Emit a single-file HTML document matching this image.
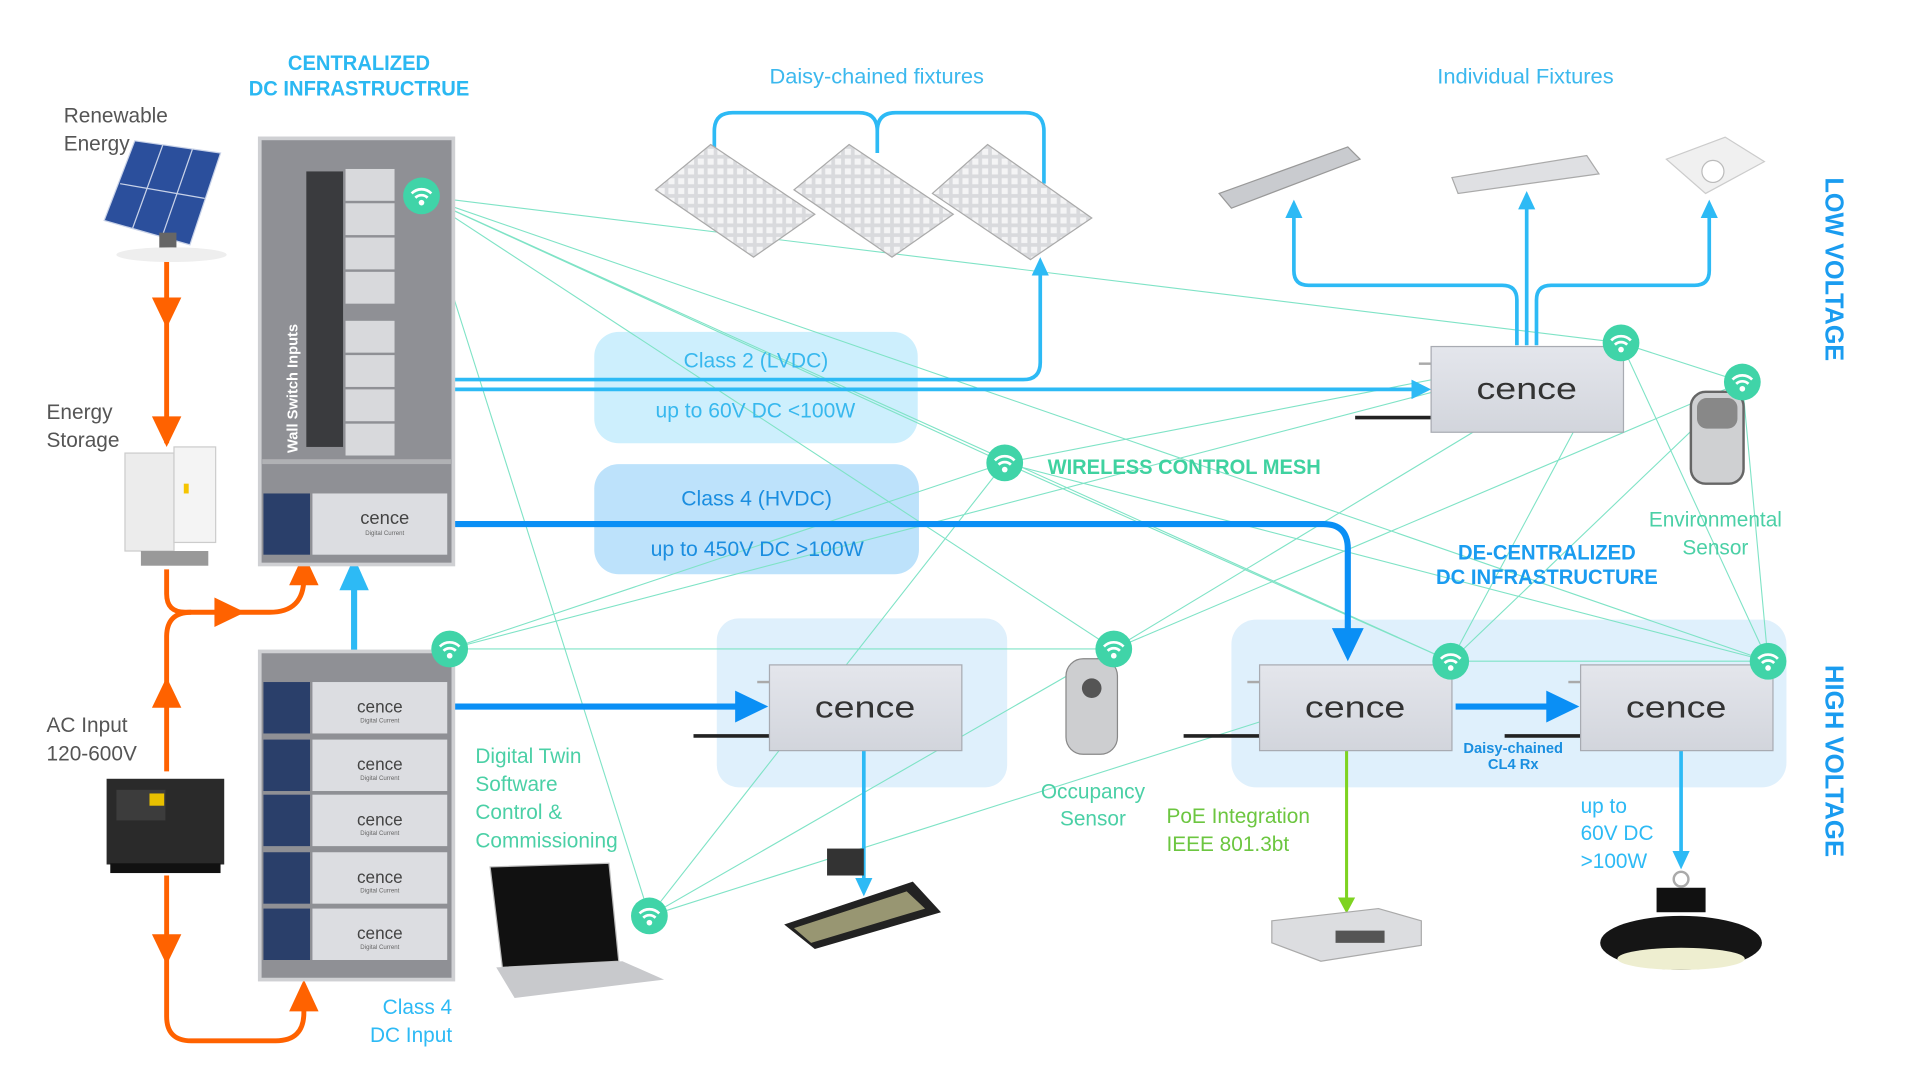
<!DOCTYPE html>
<html><head><meta charset="utf-8"><style>
html,body{margin:0;padding:0;background:#fff;}
svg{display:block;}
text{font-family:"Liberation Sans Narrow","Liberation Sans",sans-serif;}
</style></head><body>
<svg width="1920" height="1080" viewBox="0 0 1567 882" preserveAspectRatio="none" xmlns="http://www.w3.org/2000/svg">
<defs>
<g id="wifi"><circle r="15" fill="#40d4a8"/><path d="M-8,-2 A11,11 0 0 1 8,-2" stroke="#fff" stroke-width="2.2" fill="none"/><path d="M-5,1.5 A7,7 0 0 1 5,1.5" stroke="#fff" stroke-width="2.2" fill="none"/><circle cy="5.5" r="2.3" fill="#fff"/></g>
<linearGradient id="box" x1="0" y1="0" x2="0" y2="1"><stop offset="0" stop-color="#e4e6ec"/><stop offset="1" stop-color="#d2d5dc"/></linearGradient>
<pattern id="grid" width="8" height="8" patternUnits="userSpaceOnUse"><rect width="8" height="8" fill="#d9dadd"/><rect x="1.5" y="1.5" width="5" height="5" fill="#f4f4f5"/></pattern>
<g id="ctrl"><line x1="-62" y1="58" x2="0" y2="58" stroke="#222" stroke-width="3"/><line x1="-10" y1="14" x2="0" y2="14" stroke="#aaa" stroke-width="2"/><rect x="0" y="0" width="157" height="70" fill="url(#box)" stroke="#a8abb2"/><text x="78" y="43" text-anchor="middle" font-size="25" fill="#333" textLength="82" lengthAdjust="spacingAndGlyphs" style="font-family:'Liberation Sans',sans-serif">cence</text></g>
</defs>

<rect x="485" y="271" width="264" height="91" rx="20" fill="#cdeffd"/>
<rect x="485" y="379" width="265" height="90" rx="20" fill="#bde2fb"/>
<rect x="585" y="505" width="237" height="138" rx="18" fill="#dff0fc"/>
<rect x="1005" y="506" width="453" height="137" rx="20" fill="#dff0fc"/>

<g stroke="#7fe3c6" stroke-width="0.9" fill="none">
<path d="M344,160L820,378M344,160L909,530M344,160L530,748M344,160L1184,540M344,160L1323,280M344,160L1443,540"/>
<path d="M367,530L820,378M367,530L909,530M367,530L1323,280M820,378L1323,280M820,378L1184,540M820,378L530,748M820,378L1443,540"/>
<path d="M909,530L1323,280M909,530L530,748M909,530L1422,312M1184,540L1422,312M1184,540L1323,280M1443,540L1323,280M1443,540L1422,312M1323,280L1422,312M1184,540L1443,540M530,748L1184,540"/>
</g>

<g font-weight="bold" fill="#2bb8f2" font-size="17"><text x="235" y="57" textLength="116" lengthAdjust="spacingAndGlyphs">CENTRALIZED</text><text x="203" y="78" textLength="180" lengthAdjust="spacingAndGlyphs">DC INFRASTRUCTRUE</text></g>
<text x="628" y="68" font-size="17" fill="#3bb8ee" textLength="175" lengthAdjust="spacingAndGlyphs">Daisy-chained fixtures</text>
<text x="1173" y="68" font-size="17" fill="#3bb8ee" textLength="144" lengthAdjust="spacingAndGlyphs">Individual Fixtures</text>
<text transform="translate(1490,145) rotate(90)" font-size="21" font-weight="bold" fill="#1a9cf0" textLength="150" lengthAdjust="spacingAndGlyphs" style="font-family:'Liberation Sans',sans-serif">LOW VOLTAGE</text>
<text transform="translate(1490,543) rotate(90)" font-size="21" font-weight="bold" fill="#1a9cf0" textLength="157" lengthAdjust="spacingAndGlyphs" style="font-family:'Liberation Sans',sans-serif">HIGH VOLTAGE</text>
<g font-size="17" fill="#555"><text x="52" y="100">Renewable</text><text x="52" y="123">Energy</text><text x="38" y="342">Energy</text><text x="38" y="365">Storage</text><text x="38" y="598">AC Input</text><text x="38" y="621">120-600V</text></g>
<g font-size="17" fill="#38b8ee"><text x="558" y="300" textLength="118" lengthAdjust="spacingAndGlyphs">Class 2 (LVDC)</text><text x="535" y="341" textLength="163" lengthAdjust="spacingAndGlyphs">up to 60V DC &lt;100W</text></g>
<g font-size="17" fill="#1b8ee0"><text x="556" y="413" textLength="123" lengthAdjust="spacingAndGlyphs">Class 4 (HVDC)</text><text x="531" y="454" textLength="174" lengthAdjust="spacingAndGlyphs">up to 450V DC &gt;100W</text></g>
<text x="855" y="387" font-size="17" font-weight="bold" fill="#3fd2a0" textLength="223" lengthAdjust="spacingAndGlyphs">WIRELESS CONTROL MESH</text>
<g font-size="17" font-weight="bold" fill="#1a9cf0"><text x="1190" y="457" textLength="145" lengthAdjust="spacingAndGlyphs">DE-CENTRALIZED</text><text x="1172" y="477" textLength="181" lengthAdjust="spacingAndGlyphs">DC INFRASTRUCTURE</text></g>
<g font-size="17" text-anchor="middle" fill="#4bd0a6"><text x="1400" y="430">Environmental</text><text x="1400" y="453">Sensor</text><text x="892" y="652">Occupancy</text><text x="892" y="674">Sensor</text></g>
<g font-size="17" fill="#4bd0a6"><text x="388" y="623">Digital Twin</text><text x="388" y="646">Software</text><text x="388" y="669">Control &amp;</text><text x="388" y="692">Commissioning</text></g>
<g font-size="17" fill="#6cc640"><text x="952" y="672">PoE Integration</text><text x="952" y="695">IEEE 801.3bt</text></g>
<g font-size="17" fill="#2dbaf5"><text x="1290" y="664">up to</text><text x="1290" y="686">60V DC</text><text x="1290" y="709">&gt;100W</text></g>
<g font-size="17" fill="#2dbaf5" text-anchor="end"><text x="369" y="828">Class 4</text><text x="369" y="851">DC Input</text></g>
<g font-size="12" font-weight="bold" fill="#1a8fe0" text-anchor="middle"><text x="1235" y="615">Daisy-chained</text><text x="1235" y="628">CL4 Rx</text></g>

<g stroke="#ff6200" stroke-width="4" fill="none">
<path d="M136,205V362"/>
<path d="M136,465V485Q136,500 151,500H220Q248,500 248,472V458"/>
<path d="M136,630V520Q136,500 156,500"/>
<path d="M136,715V830Q136,850 156,850H225Q248,850 248,827V808"/>
</g>
<g fill="#ff6200">
<path d="M124,243L148,243L136,268z"/><path d="M124,340L148,340L136,365z"/>
<path d="M175,488L175,512L200,500z"/><path d="M236,478L260,478L248,452z"/>
<path d="M124,578L148,578L136,553z"/><path d="M124,763L148,763L136,788z"/>
<path d="M236,826L260,826L248,800z"/>
</g>

<g stroke="#2dbaf5" stroke-width="3" fill="none">
<path d="M325,310H835Q849,310 849,296V222"/>
<path d="M325,318H1155"/>
<path d="M583,125V107Q583,92 598,92H701Q716,92 716,107V125M716,107Q716,92 731,92H837Q852,92 852,107V150"/>
<path d="M1238,282V245Q1238,233 1226,233H1068Q1056,233 1056,221V175"/>
<path d="M1246,282V168"/>
<path d="M1254,282V245Q1254,233 1266,233H1383Q1395,233 1395,221V175"/>
<path d="M705,613V720"/>
<path d="M1372,613V698"/>
</g>
<g fill="#2dbaf5">
<path d="M842,225L856,225L849,210z"/><path d="M1152,310L1152,326L1168,318z"/>
<path d="M1049,178L1063,178L1056,163z"/><path d="M1239,171L1253,171L1246,156z"/><path d="M1388,178L1402,178L1395,163z"/>
<path d="M698,717L712,717L705,732z"/><path d="M1365,695L1379,695L1372,710z"/>
</g>
<path d="M289,532V480" stroke="#2dbaf5" stroke-width="5"/><path d="M277,482L301,482L289,455z" fill="#2dbaf5"/>
<path d="M358,428H1080Q1100,428 1100,448V515" stroke="#0a8ff5" stroke-width="5" fill="none"/>
<path d="M1087,513L1113,513L1100,540z" fill="#0a8ff5"/>
<path d="M350,577H602" stroke="#0a8ff5" stroke-width="5"/><path d="M600,564L600,590L627,577z" fill="#0a8ff5"/>
<path d="M1188,577H1265" stroke="#0a8ff5" stroke-width="5"/><path d="M1262,564L1262,590L1289,577z" fill="#0a8ff5"/>
<path d="M1099,613V735" stroke="#7ed321" stroke-width="2.5"/><path d="M1092,733L1106,733L1099,746z" fill="#7ed321"/>

<g><polygon points="110,115 180,125 155,200 85,180" fill="#2b4f9c" stroke="#c8d2e8"/><path d="M133,118L108,187M157,122L132,194M98,150L167,162" stroke="#c8d2e8"/><rect x="130" y="190" width="14" height="20" fill="#666"/><ellipse cx="140" cy="208" rx="45" ry="6" fill="#eee"/></g>
<g><rect x="102" y="370" width="40" height="80" fill="#ececec" stroke="#ccc"/><rect x="142" y="365" width="34" height="78" fill="#f4f4f4" stroke="#ccc"/><rect x="115" y="450" width="55" height="12" fill="#999"/><rect x="150" y="395" width="4" height="8" fill="#f5c400"/></g>
<g><rect x="87" y="636" width="96" height="70" fill="#2a2a2a"/><rect x="95" y="645" width="40" height="25" fill="#3c3c3c"/><rect x="122" y="648" width="12" height="10" fill="#e8c000"/><rect x="90" y="705" width="90" height="8" fill="#111"/></g>

<g><rect x="212" y="113" width="158" height="348" fill="#8f9095" stroke="#cfd0d3" stroke-width="3"/>
<rect x="250" y="140" width="30" height="225" fill="#3a3b3e"/>
<g fill="#d8d9dc"><rect x="282" y="138" width="40" height="26"/><rect x="282" y="166" width="40" height="26"/><rect x="282" y="194" width="40" height="26"/><rect x="282" y="222" width="40" height="26"/><rect x="282" y="262" width="40" height="26"/><rect x="282" y="290" width="40" height="26"/><rect x="282" y="318" width="40" height="26"/><rect x="282" y="346" width="40" height="26"/></g>
<rect x="214" y="375" width="154" height="4" fill="#b0b1b4"/>
<rect x="215" y="403" width="38" height="50" fill="#2a3f6a"/><rect x="255" y="403" width="110" height="50" fill="#dcdde1"/>
<text x="314" y="428" text-anchor="middle" font-size="15" fill="#444" style="font-family:'Liberation Sans',sans-serif">cence</text>
<text x="314" y="437" text-anchor="middle" font-size="5" fill="#666">Digital Current</text>
<text transform="translate(243,370) rotate(-90)" font-size="12" font-weight="bold" fill="#fff" style="font-family:'Liberation Sans',sans-serif">Wall Switch Inputs</text></g>
<g><rect x="212" y="532" width="158" height="268" fill="#8f9095" stroke="#cfd0d3" stroke-width="3"/>
<g id="m"><rect x="215" y="557" width="38" height="42" fill="#2a3f6a"/><rect x="255" y="557" width="110" height="42" fill="#dcdde1"/><text x="310" y="582" text-anchor="middle" font-size="14" fill="#444" style="font-family:'Liberation Sans',sans-serif">cence</text><text x="310" y="590" text-anchor="middle" font-size="5" fill="#666">Digital Current</text></g>
<use href="#m" y="47"/><use href="#m" y="92"/><use href="#m" y="139"/><use href="#m" y="185"/></g>

<g><polygon points="580,118 665,175 615,210 535,155" fill="url(#grid)" stroke="#aaa"/><polygon points="693,118 778,175 728,210 648,155" fill="url(#grid)" stroke="#aaa"/><polygon points="806,118 891,178 841,212 761,158" fill="url(#grid)" stroke="#aaa"/></g>
<g><polygon points="995,158 1100,120 1110,130 1005,170" fill="#c9cbcf" stroke="#999"/><polygon points="1185,145 1295,127 1305,142 1190,158" fill="#dfe0e3" stroke="#aaa"/><polygon points="1360,130 1408,112 1440,132 1392,158" fill="#f0f0f0" stroke="#ccc"/><circle cx="1398" cy="140" r="9" fill="#fff" stroke="#bbb"/></g>

<use href="#ctrl" x="1168" y="283"/>
<use href="#ctrl" x="628" y="543"/>
<use href="#ctrl" x="1028" y="543"/>
<use href="#ctrl" x="1290" y="543"/>

<rect x="1380" y="320" width="43" height="75" rx="12" fill="#cfd0d2" stroke="#666" stroke-width="2"/><rect x="1385" y="325" width="33" height="25" rx="8" fill="#888"/>
<rect x="870" y="538" width="42" height="78" rx="14" fill="#cdced0" stroke="#888"/><circle cx="891" cy="562" r="8" fill="#555"/>
<polygon points="400,708 497,705 505,785 410,790" fill="#111" stroke="#bbb"/><polygon points="405,790 508,785 542,800 420,815" fill="#c8c9cc"/>
<g><rect x="675" y="693" width="30" height="22" fill="#333"/><polygon points="640,755 745,720 768,745 665,775" fill="#222"/><polygon points="648,758 740,728 755,742 662,770" fill="#e8e4a8" opacity="0.6"/></g>
<g><polygon points="1038,752 1125,742 1160,752 1160,772 1078,785 1038,770" fill="#dcdde0" stroke="#aaa"/><rect x="1090" y="760" width="40" height="10" fill="#555"/></g>
<g><circle cx="1372" cy="718" r="6" fill="none" stroke="#aaa" stroke-width="2"/><rect x="1352" y="725" width="40" height="20" fill="#111"/><ellipse cx="1372" cy="770" rx="66" ry="22" fill="#151515"/><ellipse cx="1372" cy="783" rx="52" ry="9" fill="#eeeed0"/></g>

<use href="#wifi" x="344" y="160"/><use href="#wifi" x="367" y="530"/><use href="#wifi" x="820" y="378"/><use href="#wifi" x="909" y="530"/><use href="#wifi" x="1184" y="540"/><use href="#wifi" x="1443" y="540"/><use href="#wifi" x="1323" y="280"/><use href="#wifi" x="1422" y="312"/><use href="#wifi" x="530" y="748"/>
</svg>
</body></html>
